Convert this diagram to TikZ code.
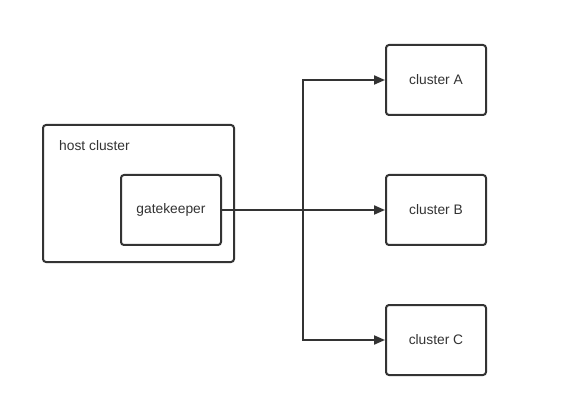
\documentclass[tikz,border=0pt]{standalone}
\usepackage{fontspec}
\setmainfont{Liberation Sans}
\usetikzlibrary{arrows.meta}
\definecolor{ln}{HTML}{333333}
\tikzset{
  lbl/.style={text=ln, font=\fontsize{13.8}{16}\selectfont},
  box/.style={draw=ln, line width=2pt, rounded corners=3pt, inner sep=0pt, lbl},
  conn/.style={draw=ln, line width=2pt, -{Triangle[length=11pt,width=9pt]}}
}
\begin{document}
\begin{tikzpicture}[x=1pt,y=-1pt]
\useasboundingbox (0,0) rectangle (561,411);
\fill[white] (0,0) rectangle (561,411);
\node[box, minimum width=191pt, minimum height=137pt] (host) at (138.5,193.5) {};
\node[lbl, anchor=west, inner sep=0pt] (hostlbl) at (59,146) {host cluster};
\node[box, minimum width=100pt, minimum height=70pt] (gk) at (171,210) {gatekeeper};
\node[box, minimum width=100pt, minimum height=70pt] (A) at (436,80) {cluster A};
\node[box, minimum width=100pt, minimum height=70pt] (B) at (436,210) {cluster B};
\node[box, minimum width=100pt, minimum height=70pt] (C) at (436,340) {cluster C};
\coordinate (j) at (303,210);
\draw[conn] (gk.east) -- (B.west);
\draw[conn] (j) |- (A.west);
\draw[conn] (j) |- (C.west);
\end{tikzpicture}
\end{document}
